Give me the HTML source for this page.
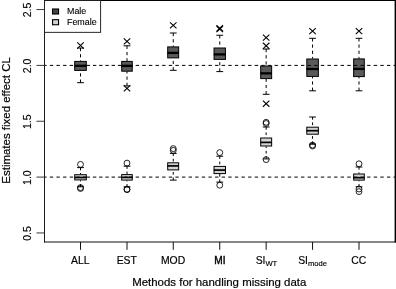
<!DOCTYPE html>
<html lang="en"><head><meta charset="utf-8"><title>Boxplot</title>
<style>html,body{margin:0;padding:0;background:#fff;overflow:hidden}svg{display:block}</style></head>
<body>
<svg width="396" height="289" viewBox="0 0 396 289" style="display:block" font-family="'Liberation Sans', sans-serif" fill="#000">
<rect x="0" y="0" width="396" height="289" fill="#fff"/>
<path d="M80.5 48.0V61.0M80.5 82.7V70.8" stroke="#000" stroke-width="1" stroke-dasharray="3.2 3.0" fill="none"/>
<path d="M77.10 48.0H83.90M77.10 82.7H83.90" stroke="#000" stroke-width="1" fill="none"/>
<rect x="74.70" y="61.40" width="11.60" height="9.00" fill="#5a5a5a" stroke="#000" stroke-width="1"/>
<path d="M74.40 65.85H86.60" stroke="#000" stroke-width="2.3" fill="none"/>
<path d="M77.25 42.45L83.75 48.55M77.25 48.55L83.75 42.45" stroke="#000" stroke-width="1.1" fill="none"/>
<path d="M127.0 45.8V61.0M127.0 85.9V71.6" stroke="#000" stroke-width="1" stroke-dasharray="3.2 3.0" fill="none"/>
<path d="M123.60 45.8H130.40M123.60 85.9H130.40" stroke="#000" stroke-width="1" fill="none"/>
<rect x="121.70" y="61.40" width="10.55" height="9.80" fill="#5a5a5a" stroke="#000" stroke-width="1"/>
<path d="M121.40 65.9H132.55" stroke="#000" stroke-width="2.3" fill="none"/>
<path d="M123.75 38.35L130.25 44.45M123.75 44.45L130.25 38.35" stroke="#000" stroke-width="1.1" fill="none"/>
<path d="M123.75 85.35L130.25 91.45M123.75 91.45L130.25 85.35" stroke="#000" stroke-width="1.1" fill="none"/>
<path d="M173.25 33.0V46.5M173.25 70.3V58.3" stroke="#000" stroke-width="1" stroke-dasharray="3.2 3.0" fill="none"/>
<path d="M169.85 33.0H176.65M169.85 70.3H176.65" stroke="#000" stroke-width="1" fill="none"/>
<rect x="167.70" y="46.90" width="10.95" height="11.00" fill="#5a5a5a" stroke="#000" stroke-width="1"/>
<path d="M167.40 52.9H178.95" stroke="#000" stroke-width="2.3" fill="none"/>
<path d="M170.00 22.35L176.50 28.45M170.00 28.45L176.50 22.35" stroke="#000" stroke-width="1.1" fill="none"/>
<path d="M219.75 35.25V47.6M219.75 71.6V59.8" stroke="#000" stroke-width="1" stroke-dasharray="3.2 3.0" fill="none"/>
<path d="M216.35 35.25H223.15M216.35 71.6H223.15" stroke="#000" stroke-width="1" fill="none"/>
<rect x="214.05" y="48.00" width="11.40" height="11.40" fill="#5a5a5a" stroke="#000" stroke-width="1"/>
<path d="M213.75 54.4H225.75" stroke="#000" stroke-width="2.3" fill="none"/>
<path d="M216.50 25.25L223.00 31.35M216.50 31.35L223.00 25.25" stroke="#000" stroke-width="1.1" fill="none"/>
<path d="M216.50 26.10L223.00 32.20M216.50 32.20L223.00 26.10" stroke="#000" stroke-width="1.1" fill="none"/>
<path d="M266.15 49.0V65.6M266.15 94.3V79.0" stroke="#000" stroke-width="1" stroke-dasharray="3.2 3.0" fill="none"/>
<path d="M262.75 49.0H269.55M262.75 94.3H269.55" stroke="#000" stroke-width="1" fill="none"/>
<rect x="260.70" y="66.00" width="10.95" height="12.60" fill="#5a5a5a" stroke="#000" stroke-width="1"/>
<path d="M260.40 73.35H271.95" stroke="#000" stroke-width="2.3" fill="none"/>
<path d="M262.90 34.55L269.40 40.65M262.90 40.65L269.40 34.55" stroke="#000" stroke-width="1.1" fill="none"/>
<path d="M262.90 42.75L269.40 48.85M262.90 48.85L269.40 42.75" stroke="#000" stroke-width="1.1" fill="none"/>
<path d="M262.90 100.65L269.40 106.75M262.90 106.75L269.40 100.65" stroke="#000" stroke-width="1.1" fill="none"/>
<path d="M312.55 38.3V58.6M312.55 90.8V76.8" stroke="#000" stroke-width="1" stroke-dasharray="3.2 3.0" fill="none"/>
<path d="M309.15 38.3H315.95M309.15 90.8H315.95" stroke="#000" stroke-width="1" fill="none"/>
<rect x="306.80" y="59.00" width="11.55" height="17.40" fill="#5a5a5a" stroke="#000" stroke-width="1"/>
<path d="M306.50 69.0H318.65" stroke="#000" stroke-width="2.3" fill="none"/>
<path d="M309.30 28.05L315.80 34.15M309.30 34.15L315.80 28.05" stroke="#000" stroke-width="1.1" fill="none"/>
<path d="M359.0 38.3V58.5M359.0 90.8V77.0" stroke="#000" stroke-width="1" stroke-dasharray="3.2 3.0" fill="none"/>
<path d="M355.60 38.3H362.40M355.60 90.8H362.40" stroke="#000" stroke-width="1" fill="none"/>
<rect x="353.65" y="58.90" width="10.65" height="17.70" fill="#5a5a5a" stroke="#000" stroke-width="1"/>
<path d="M353.35 68.9H364.60" stroke="#000" stroke-width="2.3" fill="none"/>
<path d="M355.75 28.05L362.25 34.15M355.75 34.15L362.25 28.05" stroke="#000" stroke-width="1.1" fill="none"/>
<path d="M80.5 167.6V174.3M80.5 186.8V180.3" stroke="#000" stroke-width="1" stroke-dasharray="2.7 2.7" fill="none"/>
<path d="M77.10 167.6H83.90M77.10 186.8H83.90" stroke="#000" stroke-width="1" fill="none"/>
<rect x="74.70" y="174.70" width="11.60" height="5.20" fill="#d3d3d3" stroke="#000" stroke-width="1"/>
<path d="M74.40 177.5H86.60" stroke="#000" stroke-width="1.7" fill="none"/>
<circle cx="80.5" cy="164.4" r="2.95" stroke="#000" stroke-width="0.85" fill="none"/>
<circle cx="80.5" cy="187.6" r="2.95" stroke="#000" stroke-width="0.85" fill="none"/>
<circle cx="80.5" cy="188.5" r="2.95" stroke="#000" stroke-width="0.85" fill="none"/>
<path d="M127.0 166.2V174.2M127.0 186.8V180.5" stroke="#000" stroke-width="1" stroke-dasharray="2.7 2.7" fill="none"/>
<path d="M123.60 166.2H130.40M123.60 186.8H130.40" stroke="#000" stroke-width="1" fill="none"/>
<rect x="121.70" y="174.60" width="10.55" height="5.50" fill="#d3d3d3" stroke="#000" stroke-width="1"/>
<path d="M121.40 177.4H132.55" stroke="#000" stroke-width="1.7" fill="none"/>
<circle cx="127.0" cy="163.1" r="2.95" stroke="#000" stroke-width="0.85" fill="none"/>
<circle cx="127.0" cy="189.15" r="2.95" stroke="#000" stroke-width="0.85" fill="none"/>
<circle cx="127.0" cy="189.7" r="2.95" stroke="#000" stroke-width="0.85" fill="none"/>
<path d="M173.25 153.4V162.4M173.25 180.1V170.3" stroke="#000" stroke-width="1" stroke-dasharray="2.7 2.7" fill="none"/>
<path d="M169.85 153.4H176.65M169.85 180.1H176.65" stroke="#000" stroke-width="1" fill="none"/>
<rect x="167.70" y="162.80" width="10.95" height="7.10" fill="#d3d3d3" stroke="#000" stroke-width="1"/>
<path d="M167.40 165.9H178.95" stroke="#000" stroke-width="1.7" fill="none"/>
<circle cx="173.25" cy="148.6" r="2.95" stroke="#000" stroke-width="0.85" fill="none"/>
<circle cx="173.25" cy="150.4" r="2.95" stroke="#000" stroke-width="0.85" fill="none"/>
<path d="M219.75 156.2V166.0M219.75 182.1V174.0" stroke="#000" stroke-width="1" stroke-dasharray="2.7 2.7" fill="none"/>
<path d="M216.35 156.2H223.15M216.35 182.1H223.15" stroke="#000" stroke-width="1" fill="none"/>
<rect x="214.05" y="166.40" width="11.40" height="7.20" fill="#d3d3d3" stroke="#000" stroke-width="1"/>
<path d="M213.75 170.1H225.75" stroke="#000" stroke-width="1.7" fill="none"/>
<circle cx="219.75" cy="152.6" r="2.95" stroke="#000" stroke-width="0.85" fill="none"/>
<circle cx="219.75" cy="185.2" r="2.95" stroke="#000" stroke-width="0.85" fill="none"/>
<path d="M266.15 127.0V137.6M266.15 158.9V146.4" stroke="#000" stroke-width="1" stroke-dasharray="2.7 2.7" fill="none"/>
<path d="M262.75 127.0H269.55M262.75 158.9H269.55" stroke="#000" stroke-width="1" fill="none"/>
<rect x="260.70" y="138.00" width="10.95" height="8.00" fill="#d3d3d3" stroke="#000" stroke-width="1"/>
<path d="M260.40 142.4H271.95" stroke="#000" stroke-width="1.7" fill="none"/>
<circle cx="266.15" cy="122.3" r="2.95" stroke="#000" stroke-width="0.85" fill="none"/>
<circle cx="266.15" cy="123.5" r="2.95" stroke="#000" stroke-width="0.85" fill="none"/>
<circle cx="266.15" cy="159.6" r="2.95" stroke="#000" stroke-width="0.85" fill="none"/>
<path d="M312.55 117.0V126.8M312.55 144.2V134.6" stroke="#000" stroke-width="1" stroke-dasharray="2.7 2.7" fill="none"/>
<path d="M309.15 117.0H315.95M309.15 144.2H315.95" stroke="#000" stroke-width="1" fill="none"/>
<rect x="306.80" y="127.20" width="11.55" height="7.00" fill="#d3d3d3" stroke="#000" stroke-width="1"/>
<path d="M306.50 130.7H318.65" stroke="#000" stroke-width="1.7" fill="none"/>
<circle cx="312.55" cy="145.1" r="2.95" stroke="#000" stroke-width="0.85" fill="none"/>
<circle cx="312.55" cy="146.0" r="2.95" stroke="#000" stroke-width="0.85" fill="none"/>
<path d="M359.0 167.0V173.6M359.0 186.8V180.5" stroke="#000" stroke-width="1" stroke-dasharray="2.7 2.7" fill="none"/>
<path d="M355.60 167.0H362.40M355.60 186.8H362.40" stroke="#000" stroke-width="1" fill="none"/>
<rect x="353.65" y="174.00" width="10.65" height="6.10" fill="#d3d3d3" stroke="#000" stroke-width="1"/>
<path d="M353.35 177.7H364.60" stroke="#000" stroke-width="1.7" fill="none"/>
<circle cx="359.0" cy="163.8" r="2.95" stroke="#000" stroke-width="0.85" fill="none"/>
<circle cx="359.0" cy="189.0" r="2.95" stroke="#000" stroke-width="0.85" fill="none"/>
<circle cx="359.0" cy="191.6" r="2.95" stroke="#000" stroke-width="0.85" fill="none"/>
<path d="M44.50 65.4H46.60M49.82 65.4H53.22M56.44 65.4H59.84M63.06 65.4H66.46M69.68 65.4H73.08M76.30 65.4H79.70M82.92 65.4H86.32M86.66 65.4H90.06M92.90 65.4H96.30M99.14 65.4H102.54M105.38 65.4H108.78M111.62 65.4H115.02M117.86 65.4H121.26M124.10 65.4H127.50M129.09 65.4H132.49M135.70 65.4H139.10M142.31 65.4H145.71M148.92 65.4H152.32M155.54 65.4H158.94M162.15 65.4H165.55M168.76 65.4H172.16M175.37 65.4H178.77M181.98 65.4H185.38M188.60 65.4H192.00M195.21 65.4H198.61M201.82 65.4H205.22M208.43 65.4H211.83M215.04 65.4H218.44M221.66 65.4H225.06M228.27 65.4H231.67M234.88 65.4H238.28M241.49 65.4H244.89M248.10 65.4H251.50M254.72 65.4H258.12M261.33 65.4H264.73M267.94 65.4H271.34M274.55 65.4H277.95M281.16 65.4H284.56M287.78 65.4H291.18M294.39 65.4H297.79M301.00 65.4H304.40M307.61 65.4H311.01M314.22 65.4H317.62M320.84 65.4H324.24M327.45 65.4H330.85M334.06 65.4H337.46M340.67 65.4H344.07M347.28 65.4H350.68M353.90 65.4H357.30M360.51 65.4H363.91M367.12 65.4H370.52M373.73 65.4H377.13M380.34 65.4H383.74M386.96 65.4H390.36M393.57 65.4H395.10" stroke="#000" stroke-width="1" fill="none"/>
<path d="M44.50 177.1H46.60M49.82 177.1H53.22M56.44 177.1H59.84M63.06 177.1H66.46M69.68 177.1H73.08M76.30 177.1H79.70M82.92 177.1H86.32M86.66 177.1H90.06M92.90 177.1H96.30M99.14 177.1H102.54M105.38 177.1H108.78M111.62 177.1H115.02M117.86 177.1H121.26M124.10 177.1H127.50M129.09 177.1H132.49M135.70 177.1H139.10M142.31 177.1H145.71M148.92 177.1H152.32M155.54 177.1H158.94M162.15 177.1H165.55M168.76 177.1H172.16M175.37 177.1H178.77M181.98 177.1H185.38M188.60 177.1H192.00M195.21 177.1H198.61M201.82 177.1H205.22M208.43 177.1H211.83M215.04 177.1H218.44M221.66 177.1H225.06M228.27 177.1H231.67M234.88 177.1H238.28M241.49 177.1H244.89M248.10 177.1H251.50M254.72 177.1H258.12M261.33 177.1H264.73M267.94 177.1H271.34M274.55 177.1H277.95M281.16 177.1H284.56M287.78 177.1H291.18M294.39 177.1H297.79M301.00 177.1H304.40M307.61 177.1H311.01M314.22 177.1H317.62M320.84 177.1H324.24M327.45 177.1H330.85M334.06 177.1H337.46M340.67 177.1H344.07M347.28 177.1H350.68M353.90 177.1H357.30M360.51 177.1H363.91M367.12 177.1H370.52M373.73 177.1H377.13M380.34 177.1H383.74M386.96 177.1H390.36M393.57 177.1H395.10" stroke="#000" stroke-width="1" fill="none"/>
<path d="M44.5 0V242.5" stroke="#1c1c1c" stroke-width="1.0" fill="none"/>
<path d="M44.0 241.95H396" stroke="#111" stroke-width="1.15" fill="none"/>
<path d="M43.95 0.5H396" stroke="#000" stroke-width="1.1" fill="none"/>
<path d="M395.3 0V242.5" stroke="#000" stroke-width="1.4" fill="none"/>
<path d="M44.5 232.95H36.5" stroke="#222" stroke-width="0.9" fill="none"/>
<text transform="translate(31.1 233.45) rotate(-90)" text-anchor="middle" font-size="10.5" stroke="#000" stroke-width="0.15">0.5</text>
<path d="M44.5 177.10H36.5" stroke="#222" stroke-width="0.9" fill="none"/>
<text transform="translate(31.1 177.60) rotate(-90)" text-anchor="middle" font-size="10.5" stroke="#000" stroke-width="0.15">1.0</text>
<path d="M44.5 121.25H36.5" stroke="#222" stroke-width="0.9" fill="none"/>
<text transform="translate(31.1 121.75) rotate(-90)" text-anchor="middle" font-size="10.5" stroke="#000" stroke-width="0.15">1.5</text>
<path d="M44.5 65.40H36.5" stroke="#222" stroke-width="0.9" fill="none"/>
<text transform="translate(31.1 65.90) rotate(-90)" text-anchor="middle" font-size="10.5" stroke="#000" stroke-width="0.15">2.0</text>
<path d="M44.5 9.55H36.5" stroke="#222" stroke-width="0.9" fill="none"/>
<text transform="translate(31.1 10.05) rotate(-90)" text-anchor="middle" font-size="10.5" stroke="#000" stroke-width="0.15">2.5</text>
<path d="M80.5 241.95V249.8" stroke="#111" stroke-width="1" fill="none"/>
<text x="80.30" y="264" text-anchor="middle" font-size="10.4" stroke="#000" stroke-width="0.18">ALL</text>
<path d="M127.0 241.95V249.8" stroke="#111" stroke-width="1" fill="none"/>
<text x="126.80" y="264" text-anchor="middle" font-size="10.4" stroke="#000" stroke-width="0.18">EST</text>
<path d="M173.25 241.95V249.8" stroke="#111" stroke-width="1" fill="none"/>
<text x="173.05" y="264" text-anchor="middle" font-size="10.4" stroke="#000" stroke-width="0.18">MOD</text>
<path d="M219.75 241.95V249.8" stroke="#111" stroke-width="1" fill="none"/>
<text x="219.85" y="263.85" text-anchor="middle" font-size="10.1" stroke="#000" stroke-width="0.4">MI</text>
<path d="M266.15 241.95V249.8" stroke="#111" stroke-width="1" fill="none"/>
<path d="M312.55 241.95V249.8" stroke="#111" stroke-width="1" fill="none"/>
<path d="M359.0 241.95V249.8" stroke="#111" stroke-width="1" fill="none"/>
<text x="358.80" y="264" text-anchor="middle" font-size="10.4" stroke="#000" stroke-width="0.18">CC</text>
<text x="266.45" y="263.6" text-anchor="middle" font-size="10.4" stroke="#000" stroke-width="0.15">SI<tspan font-size="7.6" dy="2.4">WT</tspan></text>
<text x="312.55" y="263.6" text-anchor="middle" font-size="10.4" stroke="#000" stroke-width="0.15">SI<tspan font-size="7.6" dy="2.4">mode</tspan></text>
<text transform="translate(219.25 286.2) scale(0.97 1)" text-anchor="middle" font-size="11.8" stroke="#000" stroke-width="0.2">Methods for handling missing data</text>
<text transform="translate(9.9 120.4) rotate(-90) scale(0.971 1)" text-anchor="middle" font-size="11.8" stroke="#000" stroke-width="0.2">Estimates fixed effect CL</text>
<rect x="44.5" y="0.5" width="56.099999999999994" height="31.85" fill="#fff" stroke="#1c1c1c" stroke-width="0.95"/>
<rect x="52.55" y="9.0" width="6.0" height="5.0" fill="#474747" stroke="#000" stroke-width="1.1"/>
<rect x="52.55" y="19.7" width="6.0" height="5.05" fill="#d3d3d3" stroke="#000" stroke-width="1.1"/>
<text x="67" y="14.4" font-size="8.9" stroke="#000" stroke-width="0.12">Male</text>
<text x="67" y="25.2" font-size="8.9" stroke="#000" stroke-width="0.12">Female</text>
</svg>
</body></html>
